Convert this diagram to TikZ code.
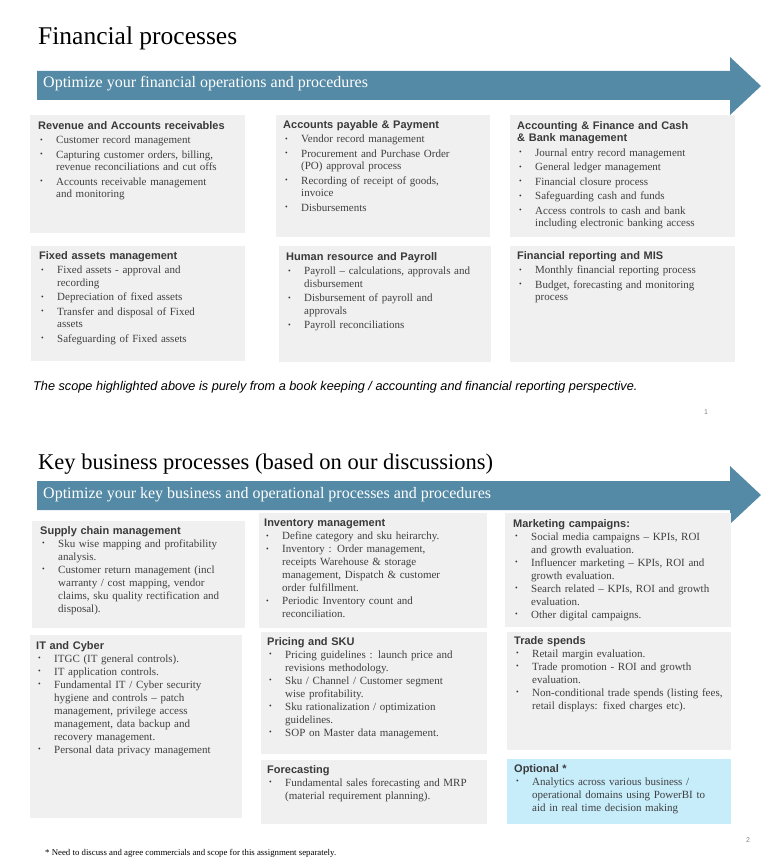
\documentclass[tikz,border=0pt]{standalone}
\usepackage{fontspec}
\setmainfont{Liberation Serif}
\setsansfont{Liberation Sans}
\usepackage{tikz}
\usepackage{xcolor}

\definecolor{arrowblue}{RGB}{84,138,165}
\definecolor{panelgray}{RGB}{240,240,240}
\definecolor{optblue}{RGB}{199,236,250}
\definecolor{headgray}{RGB}{58,58,58}
\definecolor{bodygray}{RGB}{64,64,64}

\setlength{\parindent}{0pt}
\newlength{\itemgap}
\newcommand{\prochead}[1]{\noindent{\sffamily\bfseries\color{headgray}#1}\par}
\newcommand{\procitem}[1]{\par\vspace{\itemgap}\hangindent=18pt\hangafter=1\noindent
  \makebox[18pt][l]{\hspace{2pt}\raisebox{1.3pt}{\fontsize{7.5}{7.5}\selectfont\color{black!80}\textbullet}}#1\par}

\begin{document}
\begin{tikzpicture}[x=1pt, y=-1pt,
    panel/.style={fill=panelgray, anchor=north west, inner sep=0pt},
    ftext/.style={anchor=north west, inner sep=0pt, text width=230pt, align=left,
                  text=bodygray, font=\fontsize{11}{12.5}\selectfont\setlength{\itemgap}{2pt}},
    btext/.style={ftext, font=\fontsize{11}{13}\selectfont\setlength{\itemgap}{0pt}},
    banner/.style={fill=arrowblue},
    bannertext/.style={anchor=base west, inner sep=0pt, text=white, font=\fontsize{16}{18}\selectfont},
    pagetitle/.style={anchor=base west, inner sep=0pt, font=\fontsize{25.5}{30}\selectfont},
    pagenum/.style={inner sep=0pt, text=gray, font=\sffamily\fontsize{7}{8}\selectfont}
]
\useasboundingbox (0,0) rectangle (768,866);

% Page 1: financial processes
\node[pagetitle] (title1) at (38,45) {Financial processes};
\fill[banner] (37,71) -- (730,71) -- (730,57) -- (761,86) -- (730,115) -- (730,100) -- (37,100) -- cycle;
\node[bannertext] (banner1) at (43,88) {Optimize your financial operations and procedures};

% Panels
\node[panel, minimum width=215, minimum height=118] (rev) at (30,115) {};
\node[panel, minimum width=214, minimum height=122] (ap) at (276,115) {};
\node[panel, minimum width=225, minimum height=122] (acc) at (510,115) {};
\node[panel, minimum width=214, minimum height=115] (fa) at (31,246) {};
\node[panel, minimum width=212, minimum height=116] (hr) at (279,246) {};
\node[panel, minimum width=225, minimum height=116] (mis) at (510,246) {};

% Panel texts
\node[ftext] (revtxt) at (38,121) {\prochead{Revenue and Accounts receivables}
  \procitem{Customer record management}
  \procitem{Capturing customer orders, billing,\newline revenue reconciliations and cut offs}
  \procitem{Accounts receivable management\newline and monitoring}};
\node[ftext] (aptxt) at (283,120) {\prochead{Accounts payable \& Payment}
  \procitem{Vendor record management}
  \procitem{Procurement and Purchase Order\newline (PO) approval process}
  \procitem{Recording of receipt of goods,\newline invoice}
  \procitem{Disbursements}};
\node[ftext] (acctxt) at (517,121) {\prochead{Accounting \& Finance and Cash\newline \& Bank management}
  \procitem{Journal entry record management}
  \procitem{General ledger management}
  \procitem{Financial closure process}
  \procitem{Safeguarding cash and funds}
  \procitem{Access controls to cash and bank\newline including electronic banking access}};
\node[ftext] (fatxt) at (39,251) {\prochead{Fixed assets management}
  \procitem{Fixed assets - approval and\newline recording}
  \procitem{Depreciation of fixed assets}
  \procitem{Transfer and disposal of Fixed\newline assets}
  \procitem{Safeguarding of Fixed assets}};
\node[ftext] (hrtxt) at (286,252) {\prochead{Human resource and Payroll}
  \procitem{Payroll -- calculations, approvals and\newline disbursement}
  \procitem{Disbursement of payroll and\newline approvals}
  \procitem{Payroll reconciliations}};
\node[ftext] (mistxt) at (517,251) {\prochead{Financial reporting and MIS}
  \procitem{Monthly financial reporting process}
  \procitem{Budget, forecasting and monitoring\newline process}};

\node[anchor=base west, inner sep=0pt, font=\sffamily\itshape\fontsize{12.7}{14}\selectfont] (scope) at (33,390)
  {The scope highlighted above is purely from a book keeping / accounting and financial reporting perspective.};
\node[pagenum] (num1) at (706,412) {1};

% Page 2: key business processes
\node[pagetitle, font=\fontsize{22.5}{27}\selectfont] (title2) at (38,469) {Key business processes (based on our discussions)};
\fill[banner] (37,481) -- (730,481) -- (730,466) -- (761,495) -- (730,524) -- (730,510) -- (37,510) -- cycle;
\node[bannertext] (banner2) at (43,498) {Optimize your key business and operational processes and procedures};

% Panels
\node[panel, minimum width=213, minimum height=107] (scm) at (32,521) {};
\node[panel, minimum width=212, minimum height=183] (itc) at (30,635) {};
\node[panel, minimum width=228, minimum height=115] (inv) at (259,513) {};
\node[panel, minimum width=226, minimum height=122] (sku) at (261,632) {};
\node[panel, minimum width=226, minimum height=64] (fc) at (261,760) {};
\node[panel, minimum width=226, minimum height=114] (mkt) at (505,513) {};
\node[panel, minimum width=224, minimum height=118] (ts) at (507,632) {};
\node[panel, fill=optblue, minimum width=224, minimum height=65] (opt) at (507,759) {};

% Panel texts
\node[btext] (scmtxt) at (40,526) {\prochead{Supply chain management}
  \procitem{Sku wise mapping and profitability\newline analysis.}
  \procitem{Customer return management (incl\newline warranty / cost mapping, vendor\newline claims, sku quality rectification and\newline disposal).}};
\node[btext] (itctxt) at (36,641) {\prochead{IT and Cyber}
  \procitem{ITGC (IT general controls).}
  \procitem{IT application controls.}
  \procitem{Fundamental IT / Cyber security\newline hygiene and controls -- patch\newline management, privilege access\newline management, data backup and\newline recovery management.}
  \procitem{Personal data privacy management}};
\node[btext] (invtxt) at (264,519) {\prochead{Inventory management}
  \procitem{Define category and sku heirarchy.}
  \procitem{Inventory : Order management,\newline receipts Warehouse \& storage\newline management, Dispatch \& customer\newline order fulfillment.}
  \procitem{Periodic Inventory count and\newline reconciliation.}};
\node[btext] (skutxt) at (267,637) {\prochead{Pricing and SKU}
  \procitem{Pricing guidelines : launch price and\newline revisions methodology.}
  \procitem{Sku / Channel / Customer segment\newline wise profitability.}
  \procitem{Sku rationalization / optimization\newline guidelines.}
  \procitem{SOP on Master data management.}};
\node[btext] (fctxt) at (267,765) {\prochead{Forecasting}
  \procitem{Fundamental sales forecasting and MRP\newline (material requirement planning).}};
\node[btext] (mkttxt) at (513,519) {\prochead{Marketing campaigns:}
  \procitem{Social media campaigns -- KPIs, ROI\newline and growth evaluation.}
  \procitem{Influencer marketing -- KPIs, ROI and\newline growth evaluation.}
  \procitem{Search related -- KPIs, ROI and growth\newline evaluation.}
  \procitem{Other digital campaigns.}};
\node[btext] (tstxt) at (514,636) {\prochead{Trade spends}
  \procitem{Retail margin evaluation.}
  \procitem{Trade promotion - ROI and growth\newline evaluation.}
  \procitem{Non-conditional trade spends (listing fees,\newline retail displays: fixed charges etc).}};
\node[btext] (opttxt) at (514,764) {\prochead{Optional *}
  \procitem{Analytics across various business /\newline operational domains using PowerBI to\newline aid in real time decision making}};

\node[pagenum] (num2) at (748,840) {2};
\node[anchor=base west, inner sep=0pt, font=\fontsize{8.8}{10}\selectfont] (note) at (45,855)
  {* Need to discuss and agree commercials and scope for this assignment separately.};

\end{tikzpicture}
\end{document}
